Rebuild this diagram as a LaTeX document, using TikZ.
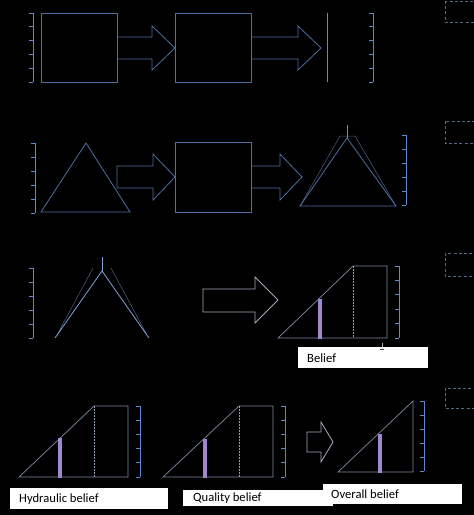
\documentclass[tikz,border=0pt]{standalone}
\usepackage{fontspec}
\setmainfont{Carlito}
\definecolor{boxblue}{HTML}{4D6FA3}
\definecolor{barblue}{HTML}{5F8AD2}
\definecolor{lightblue}{HTML}{7FA3D6}
\definecolor{belgray}{HTML}{7E8CA4}
\definecolor{arrgray}{HTML}{A2AABD}
\definecolor{dashgray}{HTML}{56688A}
\definecolor{barpurple}{HTML}{A286D0}
\newcommand\tickbar[4][barblue]{%
  \draw[line width=0.9pt,#1] (#2,#3) -- (#2,#4);
  \foreach \k in {0,...,5} \draw[line width=0.9pt,#1] ({#2},{#3+(#4-#3)*\k/5}) -- ++(-4,0);
}
\begin{document}
\begin{tikzpicture}[x=1pt,y=-1pt,
  boxline/.style={draw=boxblue,line width=0.8pt},
  blockbox/.style={boxline,anchor=north west,inner sep=0pt},
  faint/.style={draw=lightblue,line width=0.5pt,opacity=0.6},
  belline/.style={draw=belgray,line width=0.7pt},
  dashline/.style={draw=belgray!85!white,line width=0.6pt,dash pattern=on 1.5pt off 1.5pt},
  barfill/.style={fill=barpurple,draw=none},
  dashbox/.style={draw=dashgray,line width=0.8pt,dash pattern=on 3pt off 2.2pt},
  bigarrow/.style={draw=arrgray,line width=0.8pt},
  labelbox/.style={fill=white,draw=none,anchor=north west,inner sep=0pt},
  labeltext/.style={anchor=west,inner sep=0pt,text=black,font=\fontsize{12.6}{14}\selectfont}]
\fill[black] (0,0) rectangle (474,515);
\clip (0,0) rectangle (474,515);

% ---------- row 1 ----------
\tickbar{33}{13}{82}
\node[blockbox,minimum width=76pt,minimum height=69pt] (b1) at (41,13) {};
\node[blockbox,minimum width=76pt,minimum height=69pt] (b2) at (175,13) {};
\draw[boxline] (117,37) -- (152,37) -- (152,26) -- (175,48) -- (152,70) -- (152,59) -- (117,59);
\draw[boxline] (251,37) -- (298,37) -- (298,26) -- (321,48) -- (298,70) -- (298,59) -- (251,59);
\draw[draw=barblue,line width=0.9pt] (327,13) -- (327,82);
\tickbar{373}{13}{82}
\draw[dashbox] (445,1) rectangle (485,22);

% ---------- row 2 ----------
\tickbar{35}{143}{213}
\draw[boxline] (86,143) -- (130,212) -- (41,212) -- cycle;
\draw[boxline] (117,166) -- (153,166) -- (153,154) -- (175,177) -- (153,200) -- (153,188) -- (117,188) -- cycle;
\node[blockbox,minimum width=76pt,minimum height=70pt] (b3) at (175,142) {};
\draw[boxline] (251,166) -- (280,166) -- (280,154) -- (302,177) -- (280,200) -- (280,188) -- (251,188);
\draw[faint] (300,206) -- (340,136) -- (355,136) -- (396,206);
\draw[boxline] (347,138) -- (396,206) -- (300,206) -- cycle;
\draw[draw=barblue,line width=0.9pt] (347,125) -- (347,139);
\tickbar{406}{135}{205}
\draw[dashbox] (445,121) rectangle (485,143);

% ---------- row 3 ----------
\tickbar{33}{268}{338}
\draw[faint] (93,268) -- (57,335);
\draw[faint] (111,268) -- (147,335);
\draw[draw=lightblue,line width=0.8pt] (55,338) -- (102,271) -- (149,338);
\draw[draw=lightblue,line width=0.8pt] (102,257) -- (102,271);
\draw[bigarrow] (203,289) -- (255,289) -- (255,277) -- (278,300) -- (255,323) -- (255,312) -- (203,312) -- cycle;
\draw[belline] (278,338) -- (353,266) -- (387,266) -- (387,338) -- cycle;
\draw[dashline] (353,266) -- (353,338);
\draw[barfill] (318.3,299) rectangle (321.5,339);
\tickbar{399}{266}{338}
\node[labelbox,minimum width=130pt,minimum height=21pt] (belief) at (298,347) {};
\node[labeltext] (belieft) at ([xshift=9pt]belief.west) {Belief};
\draw[gray!60,line width=0.6pt] (382,343) -- (382,348);
\draw[black!70,line width=0.6pt] (380,349) -- (384,349);
\draw[dashbox] (445,253) rectangle (485,276);

% ---------- row 4 ----------
\draw[belline] (19,477) -- (94,406) -- (128,406) -- (128,477) -- cycle;
\draw[dashline] (94,406) -- (94,477);
\draw[barfill] (58.4,438) rectangle (61.6,477.5);
\tickbar{140}{406}{477}

\draw[belline] (163,477) -- (239,406) -- (273,406) -- (273,477) -- cycle;
\draw[dashline] (239,406) -- (239,477);
\draw[barfill] (203.4,439) rectangle (206.6,477.5);
\tickbar{285}{406}{477}

\draw[bigarrow] (307,432) -- (321,432) -- (321,422) -- (333,442) -- (321,462) -- (321,452) -- (307,452) -- cycle;

\draw[belline] (338,472) -- (413,401) -- (413,472) -- cycle;
\draw[barfill] (378.4,434) rectangle (381.6,472.5);
\tickbar{424}{401}{471}
\draw[dashbox] (445,388) rectangle (485,408);

\node[labelbox,minimum width=158pt,minimum height=21pt] (hyd) at (10,488) {};
\node[labeltext] (hydt) at ([xshift=9pt]hyd.west) {Hydraulic belief};
\node[labelbox,minimum width=150pt,minimum height=16pt] (qual) at (183,490) {};
\node[labeltext] (qualt) at ([xshift=10pt]qual.west) {Quality belief};
\node[labelbox,minimum width=139pt,minimum height=20pt] (ovr) at (323,484) {};
\node[labeltext] (ovrt) at ([xshift=8pt]ovr.west) {Overall belief};
\end{tikzpicture}
\end{document}
